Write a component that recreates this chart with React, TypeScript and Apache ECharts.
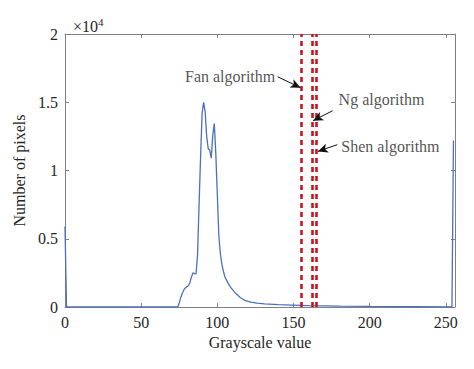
import React, { useEffect, useRef } from "react";
import * as echarts from "echarts";

const grayLevels = [0, 1, 74, 75, 76, 77, 78, 79, 80, 81, 82, 83, 84, 85, 86, 87, 88, 89, 90, 91, 92, 93, 94, 95, 96, 97, 98, 99, 100, 101, 102, 103, 104, 105, 107, 109, 112, 115, 118, 122, 126, 131, 140, 149, 160, 180, 200, 230, 253, 254, 255];
const pixelCounts = [5900, 0, 0, 300, 700, 1000, 1250, 1400, 1480, 1560, 1800, 2200, 2500, 2450, 2420, 3800, 7500, 11000, 14200, 15000, 14300, 12500, 11600, 11500, 10900, 12600, 13450, 11200, 8200, 5200, 3900, 3100, 2600, 2200, 1750, 1400, 1000, 700, 480, 350, 280, 230, 170, 140, 100, 60, 40, 20, 10, 0, 12200];

const thresholdNames = ["Fan algorithm", "Ng algorithm", "Shen algorithm"];
const thresholdValues = [155, 162, 165];
// annotation text anchors [x, y] and arrow tail/head in data units
const labelAnchors = [[138, 16870], [179.6, 15190], [181.4, 11770]];
const arrowTails = [[139.5, 16870], [175.7, 14380], [178.7, 11890]];
const arrowHeads = [[154.6, 16070], [162.8, 13650], [166, 11400]];

const xTicks = [0, 50, 100, 150, 200, 250];
const yTicks = [0, 5000, 10000, 15000, 20000];

const FONT = "Liberation Serif";
const AXIS_COLOR = "#808080";
const TEXT_COLOR = "#262626";
const FS = 16;

export default function App() {
  const ref = useRef<HTMLDivElement>(null);
  useEffect(() => {
    if (!ref.current) return;
    const chart = echarts.init(ref.current, null, { renderer: "svg" });
    const boxAxis = {
      axisLine: { show: true, onZero: false, lineStyle: { color: AXIS_COLOR, width: 1 } },
      splitLine: { show: false },
    };
    const tick = { show: true, inside: true, length: 4, lineStyle: { color: AXIS_COLOR } };
    const series: any[] = [
      {
        type: "line",
        data: grayLevels.map((g, i) => [g, pixelCounts[i]]),
        showSymbol: false,
        symbol: "none",
        lineStyle: { color: "#4d6fbe", width: 1.3 },
        silent: true,
        markLine: {
          silent: true,
          symbol: ["none", "none"],
          label: { show: false },
          lineStyle: { color: "#cc1420", type: [5, 4], width: 2.6 },
          data: thresholdValues.map((v) => ({ xAxis: v })),
        },
      },
      {
        type: "scatter",
        symbolSize: 0,
        silent: true,
        data: thresholdNames.map((n, i) => ({
          name: n,
          value: labelAnchors[i],
          label: {
            show: true,
            formatter: "{b}",
            position: i === 0 ? "left" : "right",
            distance: 0,
            fontFamily: FONT,
            fontSize: FS,
            color: TEXT_COLOR,
          },
        })),
        markLine: {
          silent: true,
          symbol: ["none", "arrow"],
          symbolSize: [7, 10],
          label: { show: false },
          lineStyle: { color: "#111", width: 1, type: "solid" },
          data: thresholdNames.map((_, i) => [
            { coord: arrowTails[i] },
            { coord: arrowHeads[i] },
          ]),
        },
      },
    ];
    chart.setOption({
      animation: false,
      backgroundColor: "#fff",
      title: {
        text: "{a|×10}{b|4}",
        left: 68,
        top: 11,
        textStyle: {
          fontWeight: "normal",
          rich: {
            a: { fontFamily: FONT, fontSize: FS, fontWeight: "normal", color: TEXT_COLOR },
            b: { fontFamily: FONT, fontSize: 11, fontWeight: "normal", color: TEXT_COLOR, padding: [0, 0, 9, 0] },
          },
        },
      },
      grid: { left: 65, right: 19, top: 34, bottom: 62 },
      xAxis: [
        {
          type: "value",
          min: 0,
          max: 256,
          interval: 50,
          ...boxAxis,
          name: "Grayscale value",
          nameLocation: "middle",
          nameGap: 27,
          nameTextStyle: { fontFamily: FONT, fontSize: FS, color: TEXT_COLOR },
          axisLabel: {
            fontFamily: FONT,
            fontSize: FS,
            color: TEXT_COLOR,
            margin: 7,
            customValues: xTicks,
          },
          axisTick: { ...tick, customValues: xTicks },
        },
        {
          type: "value",
          min: 0,
          max: 256,
          interval: 50,
          position: "top",
          ...boxAxis,
          axisTick: { ...tick, customValues: xTicks },
          axisLabel: { show: false },
        },
      ],
      yAxis: [
        {
          type: "value",
          min: 0,
          max: 20000,
          interval: 5000,
          ...boxAxis,
          name: "Number of pixels",
          nameLocation: "middle",
          nameGap: 33,
          nameTextStyle: { fontFamily: FONT, fontSize: FS, color: TEXT_COLOR },
          axisTick: { ...tick, customValues: yTicks },
          axisLabel: {
            fontFamily: FONT,
            fontSize: FS,
            color: TEXT_COLOR,
            margin: 7,
            customValues: yTicks,
            formatter: (v: number) => String(v / 10000),
          },
        },
        {
          type: "value",
          min: 0,
          max: 20000,
          interval: 5000,
          position: "right",
          ...boxAxis,
          axisTick: { ...tick, customValues: yTicks },
          axisLabel: { show: false },
        },
      ],
      series,
    });
    return () => chart.dispose();
  }, []);
  return <div ref={ref} style={{ width: 474, height: 369, position: "absolute", left: 0, top: 0 }} />;
}
